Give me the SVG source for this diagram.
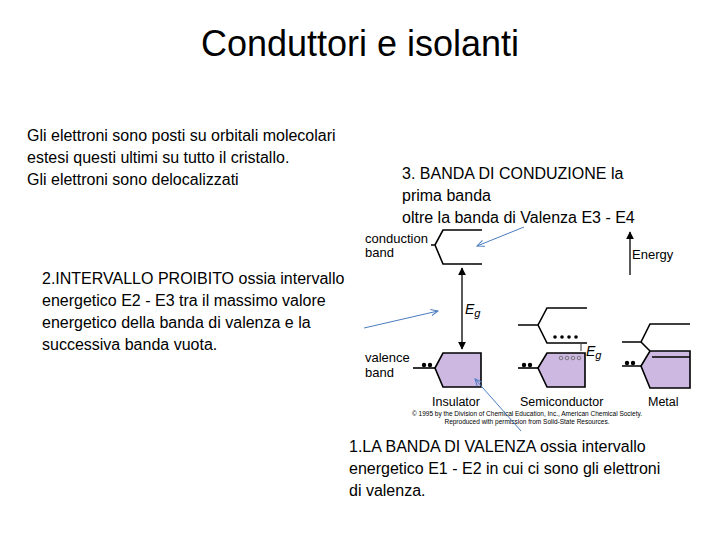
<svg xmlns="http://www.w3.org/2000/svg" width="720" height="540" viewBox="0 0 720 540">
<defs>
<style>
.t{font-family:"Liberation Sans",Arial,sans-serif;font-size:16px;fill:#000}
.f{font-family:"Liberation Sans",Arial,sans-serif;fill:#000}
.b{fill:none;stroke:#000;stroke-width:1.6}
.v{fill:#cdb8e2;stroke:#000;stroke-width:1.6}
.bl{stroke:#4a7cc0;stroke-width:1;fill:none;marker-end:url(#ba)}
</style>
<marker id="ba" viewBox="0 0 10 10" refX="9" refY="5" markerWidth="8" markerHeight="8" orient="auto"><path d="M0,1 L9,5 L0,9" fill="none" stroke="#4a7cc0" stroke-width="1.2"/></marker>
<marker id="ka" viewBox="0 0 10 10" refX="9" refY="5" markerWidth="6" markerHeight="6" orient="auto-start-reverse"><path d="M0,0 L10,5 L0,10z" fill="#000"/></marker>
</defs>
<rect width="720" height="540" fill="#fff"/>
<text x="360" y="56" text-anchor="middle" class="f" font-size="36">Conduttori e isolanti</text>
<g id="text-intro" class="t"><text x="27" y="141">Gli elettroni sono posti su orbitali molecolari</text><text x="27" y="163">estesi questi ultimi su tutto il cristallo.</text><text x="27" y="185">Gli elettroni sono delocalizzati</text></g>
<g id="text-2" class="t"><text x="42" y="284">2.INTERVALLO PROIBITO ossia intervallo</text><text x="42" y="306">energetico E2 - E3 tra il massimo valore</text><text x="42" y="328">energetico della banda di valenza e la</text><text x="42" y="350">successiva banda vuota.</text></g>
<g id="text-3" class="t"><text x="402" y="179">3. BANDA DI CONDUZIONE la</text><text x="402" y="201">prima banda</text><text x="402" y="223">oltre la banda di Valenza E3 - E4</text></g>
<g id="text-1" class="t"><text x="349" y="452">1.LA BANDA DI VALENZA ossia intervallo</text><text x="349" y="474">energetico E1 - E2 in cui ci sono gli elettroni</text><text x="349" y="496">di valenza.</text></g>
<g id="insulator">
<text x="365" y="243" class="f" font-size="13">conduction</text><text x="365" y="257" class="f" font-size="13">band</text>
<path class="b" d="M431,245 H435 L443,230 H482 M435,245 L443,264 H482"/>
<text x="365" y="362" class="f" font-size="13">valence</text><text x="365" y="377" class="f" font-size="13">band</text>
<path class="b" d="M413,368 H435"/>
<path class="v" d="M435,368 L443,353 H481 V387 H443 Z"/>
<circle cx="424" cy="365" r="2.2"/><circle cx="430" cy="365" r="2.2"/>
<line x1="462" y1="268" x2="462" y2="349" stroke="#000" stroke-width="1.3" marker-end="url(#ka)" marker-start="url(#ka)"/>
<text x="465" y="314" class="f" font-size="14" font-style="italic">E<tspan font-size="11" dy="3">g</tspan></text>
<text x="432" y="406" class="f" font-size="12.5">Insulator</text>
</g>
<g id="semiconductor">
<path class="b" d="M518,325 H538 L547,308 H587 M538,325 L547,343 H587"/>
<circle cx="555" cy="337" r="1.8"/><circle cx="562" cy="337" r="1.8"/><circle cx="569" cy="337" r="1.8"/><circle cx="576" cy="337" r="1.8"/>
<path class="b" d="M518,368 H538"/>
<path class="v" d="M538,368 L547,353 H585 V387 H547 Z"/>
<g fill="none" stroke="#666" stroke-width="0.8"><circle cx="561" cy="358" r="1.8"/><circle cx="567" cy="358" r="1.8"/><circle cx="573" cy="358" r="1.8"/><circle cx="579" cy="358" r="1.8"/></g>
<circle cx="524" cy="365" r="2.2"/><circle cx="530" cy="365" r="2.2"/>
<line x1="581" y1="344" x2="581" y2="351" stroke="#000" stroke-width="0.8"/>
<text x="586" y="356" class="f" font-size="14" font-style="italic">E<tspan font-size="11" dy="3">g</tspan></text>
<text x="520" y="406" class="f" font-size="12.5">Semiconductor</text>
</g>
<g id="metal">
<path class="b" d="M622,342 H641 L650,324 H690"/>
<path class="v" d="M641,366 L650,351 H690 V388 H650 Z"/>
<path class="b" d="M641,342 L650,351 M652,357 H690 M622,366 H641"/>
<circle cx="627" cy="363" r="2.2"/><circle cx="633" cy="363" r="2.2"/>
<text x="648" y="406" class="f" font-size="12.5">Metal</text>
</g>
<g id="energy">
<line x1="630" y1="275" x2="630" y2="232" stroke="#000" stroke-width="1.3" marker-end="url(#ka)"/>
<text x="632" y="259" class="f" font-size="13">Energy</text>
</g>
<g id="credit" class="f" font-size="6.5" text-anchor="middle"><text x="527" y="416">© 1995 by the Division of Chemical Education, Inc., American Chemical Society.</text><text x="527" y="424">Reproduced with permission from Solid-State Resources.</text></g>
<g id="connectors">
<line class="bl" x1="524" y1="227" x2="477" y2="246"/>
<line class="bl" x1="364" y1="328" x2="438" y2="311"/>
<line class="bl" x1="521" y1="431" x2="475" y2="379"/>
</g>
</svg>
